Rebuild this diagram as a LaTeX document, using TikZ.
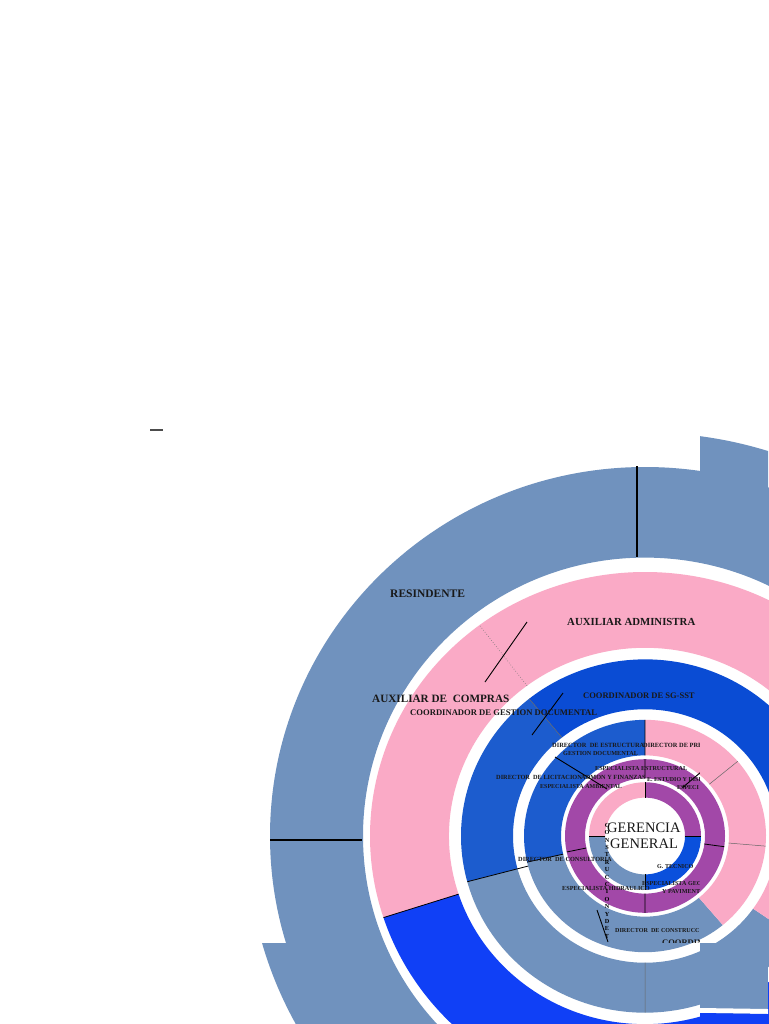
\documentclass[tikz,border=0pt]{standalone}
\usepackage{fontspec}
\setmainfont{Liberation Serif}
\usetikzlibrary{arrows.meta}
\definecolor{steel}{RGB}{112,146,190}
\definecolor{pinkc}{RGB}{250,170,198}
\definecolor{dblue}{RGB}{10,76,212}
\definecolor{mblue}{RGB}{28,92,206}
\definecolor{bblue}{RGB}{16,64,246}
\definecolor{purp}{RGB}{162,72,168}
\definecolor{rblue}{RGB}{10,80,220}
\newcommand{\sect}[5]{\fill[#1] (#4:#3) arc[start angle=#4, end angle=#5, radius=#3] -- (#5:#2) arc[start angle=#5, end angle=#4, radius=#2] -- cycle;}
\newcommand{\rings}[1]{%
  \fill[steel, even odd rule] (0,0) ellipse[x radius=#1, y radius=1.025*#1] (0,0) ellipse[x radius=282, y radius=290];
  \sect{pinkc}{196}{275}{-40}{198}
  \sect{bblue}{196}{275}{198}{320}
  \sect{dblue}{132}{184}{5}{129}
  \sect{mblue}{132}{184}{129}{195}
  \sect{steel}{132}{184}{195}{325}
  \sect{pinkc}{132}{184}{325}{365}
  \sect{mblue}{84}{121}{90}{193}
  \sect{steel}{84}{121}{193}{310}
  \sect{pinkc}{84}{121}{-50}{90}
  \sect{purp}{60}{80}{0}{360}
  \sect{purp}{40}{56}{0}{90}
  \sect{pinkc}{40}{56}{90}{180}
  \sect{steel}{40}{56}{180}{270}
  \sect{rblue}{40}{56}{270}{360}
  \draw[divk] (90:40) -- (90:56) (180:40) -- (180:56) (0:40) -- (0:56) (270:40) -- (270:56);
  \draw[divk] (90:60) -- (90:80) (270:60) -- (270:80) (192:60) -- (192:80) (-8:60) -- (-8:80);
  \draw[divk] (90:84) -- (90:121) (193:84) -- (193:121);
  \draw[divg] (-5:84) -- (-5:121) (40:84) -- (40:121);
  \draw[divg] (129:132) -- (129:184) (270:132) -- (270:184);
  \draw[divk] (195:121) -- (195:184);
  \draw[divk] (198:196) -- (198:275);
  \draw[divd] (127:196) -- (127:275);
}
\begin{document}
\begin{tikzpicture}[x=1pt,y=-1pt,
  divk/.style={black, line width=0.8pt},
  divg/.style={black!60, line width=0.5pt},
  divd/.style={black!55, line width=0.6pt, dotted},
  lead/.style={black, line width=0.9pt},
  lab/.style={inner sep=0pt, anchor=west, text=black!90, font=\bfseries\fontsize{6.2}{7}\selectfont},
  big/.style={inner sep=0pt, anchor=west, text=black!90}]
\useasboundingbox (0,0) rectangle (768,1024);
\fill[white] (0,0) rectangle (768,1024);
\begin{scope}[shift={(645,836)}, yscale=-0.96]
  \rings{375}
\end{scope}
\draw[black, line width=2pt] (637,466) -- (637,557);
\draw[black, line width=2pt] (270,840) -- (362,840);
\draw[black!70, line width=1.2pt] (150,430) -- (163,430);
% leader lines
\coordinate (l1a) at (485,682); \coordinate (l1b) at (527,622);
\coordinate (l2a) at (532,735); \coordinate (l2b) at (563,693);
\coordinate (l3a) at (555,757); \coordinate (l3b) at (607,789);
\coordinate (l4a) at (701,772); \coordinate (l4b) at (682,788);
\coordinate (l5a) at (597,910); \coordinate (l5b) at (608,942);
\draw[lead] (l1a) -- (l1b);
\draw[lead] (l2a) -- (l2b);
\draw[lead] (l3a) -- (l3b);
\draw[lead, -{Stealth[length=4pt,width=3pt]}] (l4a) -- (l4b);
\draw[lead] (l5a) -- (l5b);
% labels
\node[big, font=\bfseries\fontsize{11.5}{12}\selectfont] (t1) at (390,594) {RESINDENTE};
\node[big, font=\bfseries\fontsize{10.8}{12}\selectfont] (t2) at (567,622) {AUXILIAR ADMINISTRA};
\node[big, font=\bfseries\fontsize{11.2}{12}\selectfont] (t3) at (372,699) {AUXILIAR DE\ \ COMPRAS};
\node[big, font=\bfseries\fontsize{8.5}{10}\selectfont] (t4) at (583,696) {COORDINADOR DE SG-SST};
\node[big, font=\bfseries\fontsize{8.6}{10}\selectfont] (t5) at (410,713) {COORDINADOR DE GESTION DOCUMENTAL};
\node[lab, font=\bfseries\fontsize{6.4}{7}\selectfont] (t6) at (552,745) {DIRECTOR\ \ DE ESTRUCTURA};
\node[lab, font=\bfseries\fontsize{6.4}{7}\selectfont] (t7) at (643,745) {DIRECTOR DE PRE};
\node[lab] (t8) at (563,753) {GESTION DOCUMENTAL};
\node[lab, font=\bfseries\fontsize{6.1}{7}\selectfont] (t9) at (595,769) {ESPECIALISTA ESTRUCTURAL};
\node[lab, font=\bfseries\fontsize{6.3}{7}\selectfont] (t10) at (496,777) {DIRECTOR\ \ DE LICITACION};
\node[lab, font=\bfseries\fontsize{6.3}{7}\selectfont] (t11) at (581,777) {ADMON Y FINANZAS};
\node[lab, font=\bfseries\fontsize{6.0}{7}\selectfont] (t12) at (647,780) {E. ESTUDIO Y DISE};
\node[lab, font=\bfseries\fontsize{6.0}{7}\selectfont] (t13) at (677,788) {ESPECI};
\node[lab, font=\bfseries\fontsize{6.0}{7}\selectfont] (t14) at (540,787) {ESPECIALISTA AMBIENTAL};
\node[big, font=\fontsize{14.5}{16}\selectfont] (t15) at (607,828) {GERENCIA};
\node[big, font=\fontsize{14.5}{16}\selectfont] (t16) at (610,844) {GENERAL};
\node[lab, font=\bfseries\fontsize{6.3}{7}\selectfont] (t17) at (518,859) {DIRECTOR\ \ DE CONSULTORIA};
\node[lab, font=\bfseries\fontsize{6.1}{7}\selectfont] (t18) at (657,867) {G. TECNICO};
\node[lab] (t21) at (562,888) {ESPECIALISTA HIDRAULICO};
\node[lab, font=\bfseries\fontsize{6.1}{7}\selectfont] (t19) at (642,883) {ESPECIALISTA GEO};
\node[lab, font=\bfseries\fontsize{6.1}{7}\selectfont] (t20) at (662,892) {Y PAVIMENT};
\node[lab, font=\bfseries\fontsize{6.1}{7}\selectfont] (t22) at (615,930) {DIRECTOR\ \ DE CONSTRUCC};
\node[big, font=\bfseries\fontsize{8.5}{10}\selectfont] (t23) at (662,943) {COORDIN};
\node[inner sep=0pt, anchor=north, align=center, text=black, font=\bfseries\fontsize{6.2}{7.4}\selectfont] (t24) at (607,823) {C\\O\\N\\S\\T\\R\\U\\C\\C\\I\\O\\N\\Y\\D\\E\\T};
% right tile
\begin{scope}
  \clip (700,0) rectangle (768,943);
  \fill[white] (700,0) rectangle (768,943);
  \begin{scope}[shift={(645,836)}, yscale=-0.96]
    \rings{410}
  \end{scope}
\end{scope}
% bottom tile
\begin{scope}
  \clip (0,943) rectangle (700,1024);
  \fill[white] (0,943) rectangle (700,1024);
  \begin{scope}[shift={(645,836)}, yscale=-0.96]
    \rings{398}
  \end{scope}
\end{scope}
% bottom-right tile
\begin{scope}
  \clip (700,943) rectangle (768,1024);
  \fill[steel] (700,943) rectangle (768,1024);
  \fill[white] (700,1008) -- (768,1009) -- (768,1014) -- (700,1013) -- cycle;
  \fill[bblue] (700,1013) -- (768,1014) -- (768,1024) -- (700,1024) -- cycle;
\end{scope}
\end{tikzpicture}
\end{document}
